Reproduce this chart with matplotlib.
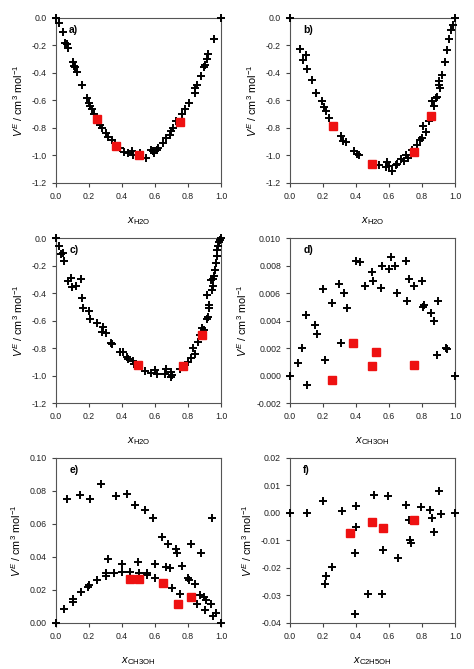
import numpy as np
import matplotlib
matplotlib.use('Agg')
import matplotlib.pyplot as plt

plt.rcParams['font.family'] = ['Liberation Sans', 'DejaVu Sans']
plt.rcParams['mathtext.fontset'] = 'custom'
plt.rcParams['mathtext.rm'] = 'Liberation Sans'
plt.rcParams['mathtext.it'] = 'Liberation Sans:italic'

# panel a
a_x = [0, 0.02, 0.04, 0.057, 0.065, 0.075, 0.105, 0.109, 0.117, 0.125, 0.156, 0.19, 0.198, 0.206,
       0.216, 0.23, 0.246, 0.267, 0.277, 0.303, 0.317, 0.337, 0.358, 0.388, 0.412, 0.438, 0.459,
       0.469, 0.509, 0.543, 0.574, 0.59, 0.594, 0.61, 0.62, 0.65, 0.67, 0.69, 0.695, 0.711, 0.727,
       0.762, 0.782, 0.808, 0.842, 0.842, 0.853, 0.877, 0.897, 0.903, 0.913, 0.923, 0.96, 1.0]
a_y = [0, -0.04, -0.10, -0.18, -0.19, -0.22, -0.32, -0.35, -0.36, -0.39, -0.485, -0.585, -0.62,
       -0.64, -0.665, -0.70, -0.735, -0.775, -0.80, -0.835, -0.865, -0.885, -0.91, -0.945, -0.975,
       -0.985, -0.97, -0.995, -0.985, -1.02, -0.96, -0.97, -0.985, -0.96, -0.945, -0.91, -0.875,
       -0.85, -0.825, -0.80, -0.75, -0.70, -0.665, -0.62, -0.545, -0.51, -0.49, -0.42, -0.36,
       -0.34, -0.30, -0.26, -0.15, 0]
a_rx = [0.25, 0.364, 0.503, 0.752]
a_ry = [-0.735, -0.93, -0.995, -0.76]

# panel b
b_x = [0, 0.061, 0.081, 0.095, 0.101, 0.135, 0.16, 0.194, 0.206, 0.216, 0.236, 0.307, 0.323,
       0.337, 0.388, 0.404, 0.418, 0.539, 0.58, 0.59, 0.6, 0.62, 0.64, 0.65, 0.67, 0.69, 0.70,
       0.715, 0.741, 0.772, 0.79, 0.80, 0.808, 0.822, 0.842, 0.863, 0.873, 0.883, 0.893, 0.903,
       0.905, 0.909, 0.923, 0.937, 0.95, 0.964, 0.978, 0.99, 1.0]
b_y = [0, -0.223, -0.308, -0.267, -0.371, -0.453, -0.545, -0.606, -0.647, -0.679, -0.727, -0.86,
       -0.897, -0.904, -0.97, -0.986, -1.0, -1.067, -1.086, -1.05, -1.078, -1.115, -1.067, -1.06,
       -1.025, -1.042, -0.994, -1.018, -0.958, -0.921, -0.885, -0.873, -0.788, -0.832, -0.752,
       -0.606, -0.642, -0.582, -0.574, -0.46, -0.49, -0.51, -0.412, -0.322, -0.235, -0.153,
       -0.09, -0.048, 0]
b_rx = [0.261, 0.499, 0.752, 0.857]
b_ry = [-0.783, -1.062, -0.974, -0.71]

# panel c
c_x = [0, 0.02, 0.03, 0.04, 0.05, 0.075, 0.089, 0.099, 0.121, 0.152, 0.156, 0.162, 0.202, 0.206,
       0.246, 0.283, 0.277, 0.303, 0.333, 0.337, 0.388, 0.404, 0.428, 0.438, 0.465, 0.473, 0.54,
       0.574, 0.6, 0.61, 0.66, 0.665, 0.695, 0.701, 0.695, 0.752, 0.802, 0.816, 0.832, 0.842,
       0.863, 0.873, 0.887, 0.899, 0.913, 0.917, 0.923, 0.929, 0.929, 0.937, 0.943, 0.949, 0.954,
       0.958, 0.964, 0.968, 0.974, 0.978, 0.984, 0.99, 0.994, 1.0]
c_y = [0, -0.061, -0.117, -0.11, -0.17, -0.311, -0.292, -0.353, -0.348, -0.30, -0.438, -0.506,
       -0.53, -0.59, -0.62, -0.645, -0.68, -0.69, -0.76, -0.77, -0.827, -0.827, -0.864, -0.883,
       -0.893, -0.917, -0.966, -0.98, -0.96, -0.99, -0.99, -0.956, -0.973, -0.998, -1.01, -0.956,
       -0.90, -0.876, -0.80, -0.84, -0.755, -0.706, -0.657, -0.67, -0.414, -0.59, -0.572, -0.487,
       -0.51, -0.304, -0.377, -0.348, -0.30, -0.275, -0.23, -0.183, -0.129, -0.085, -0.056,
       -0.032, -0.017, 0]
c_rx = [0.499, 0.768, 0.883]
c_ry = [-0.92, -0.93, -0.706]

# panel d
d_x = [0, 0.048, 0.075, 0.099, 0.101, 0.149, 0.162, 0.2, 0.21, 0.253, 0.297, 0.307, 0.327, 0.347,
       0.4, 0.422, 0.453, 0.499, 0.503, 0.553, 0.558, 0.6, 0.612, 0.636, 0.65, 0.701, 0.707,
       0.721, 0.752, 0.802, 0.806, 0.812, 0.853, 0.873, 0.899, 0.893, 0.943, 0.949, 1.0]
d_y = [0, 0.00091, 0.002, 0.00438, -0.00067, 0.0037, 0.003, 0.0063, 0.0011, 0.0053, 0.00665,
       0.00236, 0.006, 0.0049, 0.0083, 0.00826, 0.0065, 0.0075, 0.00685, 0.00636, 0.008,
       0.00775, 0.0086, 0.008, 0.006, 0.0083, 0.0054, 0.007, 0.0065, 0.0069, 0.005, 0.0051,
       0.00455, 0.004, 0.0054, 0.0015, 0.002, 0.00193, 0]
d_rx = [0.253, 0.382, 0.499, 0.519, 0.754]
d_ry = [-0.0003, 0.00236, 0.00072, 0.0017, 0.00079]

# panel e
e_x = [0.065, 0.145, 0.206, 0.273, 0.364, 0.428, 0.479, 0.539, 0.59, 0.64, 0.68, 0.725, 0.731,
       0.818, 0.879, 0.947, 0.762,
       0, 0.05, 0.101, 0.101, 0.152, 0.196, 0.202, 0.25, 0.303, 0.303, 0.317, 0.352, 0.398,
       0.402, 0.449, 0.499, 0.505, 0.554, 0.554, 0.6, 0.6, 0.667, 0.69, 0.701, 0.752, 0.802,
       0.808, 0.842, 0.853, 0.873, 0.897, 0.907, 0.903, 0.937, 0.95, 0.97, 1.0]
e_y = [0.075, 0.0777, 0.075, 0.0842, 0.0767, 0.0783, 0.0716, 0.0682, 0.0635, 0.0523, 0.0479,
       0.0446, 0.0426, 0.0479, 0.0422, 0.0635, 0.0345,
       0, 0.0087, 0.0144, 0.0128, 0.0189, 0.0219, 0.0233, 0.026, 0.0284, 0.030, 0.0385, 0.030,
       0.031, 0.0355, 0.031, 0.0371, 0.0304, 0.029, 0.030, 0.0357, 0.027, 0.0337, 0.0335,
       0.0209, 0.0178, 0.027, 0.026, 0.0239, 0.0114, 0.0168, 0.0158, 0.0142, 0.0077, 0.0114,
       0.004, 0.0061, 0]
e_rx = [0.449, 0.505, 0.65, 0.741, 0.816]
e_ry = [0.0264, 0.0264, 0.0245, 0.0118, 0.0158]

# panel f
f_x = [0, 0.101, 0.2, 0.313, 0.402, 0.398, 0.394, 0.394, 0.509, 0.596, 0.564, 0.56, 0.475, 0.651,
       0.701, 0.723, 0.725, 0.735, 0.796, 0.848, 0.863, 0.873, 0.903, 0.917, 1.0, 0.22, 0.21,
       0.257]
f_y = [0, 0, 0.0045, 0.00085, 0.0027, -0.0052, -0.0147, -0.0369, 0.0064, 0.0062, -0.0135,
       -0.0293, -0.0293, -0.0162, 0.0029, -0.0026, -0.0099, -0.0108, 0.0021, 0.0011, -0.0017,
       -0.0071, 0.008, -0.0004, 0, -0.023, -0.0259, -0.0198]
f_rx = [0.362, 0.499, 0.564, 0.752]
f_ry = [-0.0074, -0.0034, -0.0054, -0.0026]

panels = [
    ('a)', a_x, a_y, a_rx, a_ry, r'$x_{\mathrm{H2O}}$', (-1.2, 0.0), np.arange(-1.2, 0.01, 0.2), '%.1f'),
    ('b)', b_x, b_y, b_rx, b_ry, r'$x_{\mathrm{H2O}}$', (-1.2, 0.0), np.arange(-1.2, 0.01, 0.2), '%.1f'),
    ('c)', c_x, c_y, c_rx, c_ry, r'$x_{\mathrm{H2O}}$', (-1.2, 0.0), np.arange(-1.2, 0.01, 0.2), '%.1f'),
    ('d)', d_x, d_y, d_rx, d_ry, r'$x_{\mathrm{CH3OH}}$', (-0.002, 0.010), np.arange(-0.002, 0.0101, 0.002), '%.3f'),
    ('e)', e_x, e_y, e_rx, e_ry, r'$x_{\mathrm{CH3OH}}$', (0.0, 0.10), np.arange(0, 0.101, 0.02), '%.2f'),
    ('f)', f_x, f_y, f_rx, f_ry, r'$x_{\mathrm{C2H5OH}}$', (-0.04, 0.02), np.arange(-0.04, 0.021, 0.01), '%.2f'),
]

lefts = [0.118, 0.612]
bottoms = [0.7265, 0.3976, 0.0688]
w = 165 / 474
h = 165 / 669

fig = plt.figure(figsize=(4.74, 6.69), dpi=100)
for i, (lab, x, y, rx, ry, xl, ylim, yt, fmt) in enumerate(panels):
    ax = fig.add_axes([lefts[i % 2], bottoms[i // 2], w, h])
    ax.plot(x, y, '+', color='black', ms=5.5, mew=1.4, clip_on=False, zorder=3)
    ax.plot(rx, ry, 's', color='#ee1111', ms=5.5, mec='#ee1111', clip_on=False, zorder=4)
    ax.set_xlim(0, 1)
    ax.set_ylim(*ylim)
    ax.set_xticks(np.arange(0, 1.01, 0.2))
    ax.set_xticklabels(['%.1f' % v for v in np.arange(0, 1.01, 0.2)])
    ax.set_yticks(yt)
    labels = []
    for v in yt:
        s = fmt % v
        if s.startswith('-') and float(s) == 0:
            s = s[1:]
        labels.append(s)
    ax.set_yticklabels(labels)
    ax.tick_params(direction='out', length=3, width=0.8, color='#444444', labelsize=6.3,
                   pad=3.5, top=False, right=False, labelcolor='#222222')
    for sp in ax.spines.values():
        sp.set_linewidth(0.8)
        sp.set_color('#555555')
    ax.set_xlabel(xl, fontsize=8, labelpad=10)
    ax.set_ylabel(r'$V^E$ / cm$^3$ mol$^{-1}$', fontsize=7.8, labelpad=5)
    ax.text(0.08, 0.925, lab, transform=ax.transAxes, fontsize=7.5, fontweight='bold',
            va='center', ha='left')

fig.savefig('out.png', dpi=100)
